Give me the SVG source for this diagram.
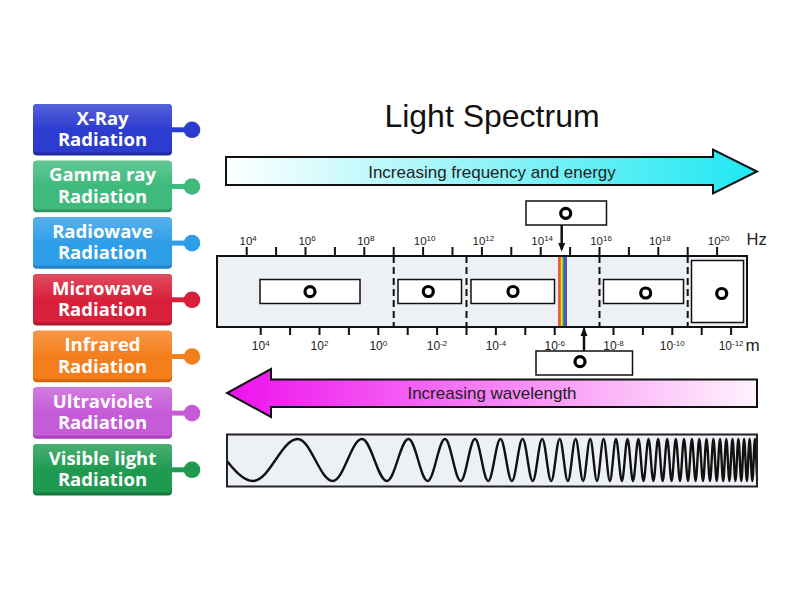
<svg xmlns="http://www.w3.org/2000/svg" width="800" height="600" viewBox="0 0 800 600">
<defs>
  <linearGradient id="gFreq" x1="226" y1="0" x2="757" y2="0" gradientUnits="userSpaceOnUse">
    <stop offset="0" stop-color="#ffffff"/><stop offset="1" stop-color="#1ee8f2"/>
  </linearGradient>
  <linearGradient id="gWave" x1="227" y1="0" x2="757" y2="0" gradientUnits="userSpaceOnUse">
    <stop offset="0" stop-color="#ee10ee"/><stop offset="1" stop-color="#fff3fd"/>
  </linearGradient>
  <linearGradient id="gShine" x1="0" y1="0" x2="0" y2="1">
    <stop offset="0" stop-color="#ffffff" stop-opacity="0.2"/><stop offset="1" stop-color="#ffffff" stop-opacity="0"/>
  </linearGradient>
  <marker id="ah" viewBox="0 0 10 10" markerWidth="9" markerHeight="9" refX="7" refY="5" orient="auto" markerUnits="userSpaceOnUse">
    <path d="M0,1 L10,5 L0,9 z" fill="#111"/>
  </marker>
  <clipPath id="clipWave"><rect x="228" y="435.5" width="528" height="50"/></clipPath>
</defs>
<style>
  .lbl text{font-family:"Open Sans","Noto Sans",sans-serif;font-weight:700;font-size:18.5px;fill:#fff;text-anchor:middle}
  .sc{font-family:"Liberation Sans",Arial,sans-serif;fill:#222;text-anchor:middle}
  .top{font-size:11.5px}
  .bot{font-size:12px}
  .sup{font-size:8px}
  .ticks{stroke:#111;stroke-width:2;fill:none}
  .dash{stroke:#111;stroke-width:2;stroke-dasharray:7 4}
  .slot{fill:#fff;stroke:#111;stroke-width:1.5}
  .ring{fill:none;stroke:#000;stroke-width:3.2}
  .bigtxt{font-family:"Liberation Sans",Arial,sans-serif;fill:#222;text-anchor:middle;font-size:17px}
  .conn{stroke:#111;stroke-width:2.5;fill:none}
</style>

<!-- Title -->
<text id="title" x="492" y="127" font-family="'Liberation Sans',Arial,sans-serif" font-size="32" fill="#111" text-anchor="middle">Light Spectrum</text>

<!-- Left labels -->
<g id="label-xray" class="lbl">
  <rect x="33" y="104" width="139" height="51.5" rx="4" fill="#1e2a9e"/>
  <rect x="33" y="104" width="139" height="48.5" rx="4" fill="#2c3bd0"/>
  <rect x="33" y="104" width="139" height="26" rx="4" fill="url(#gShine)"/>
  <line x1="171" y1="129.8" x2="190" y2="129.8" stroke="#2c3bd0" stroke-width="5"/>
  <circle cx="192" cy="129.8" r="8.3" fill="#2c3bd0"/>
  <text x="102.5" y="124.5">X-Ray<tspan x="102.5" dy="21.5">Radiation</tspan></text>
</g>
<g id="label-gamma" class="lbl">
  <rect x="33" y="160.7" width="139" height="51.5" rx="4" fill="#2e9862"/>
  <rect x="33" y="160.7" width="139" height="48.5" rx="4" fill="#3dba7c"/>
  <rect x="33" y="160.7" width="139" height="26" rx="4" fill="url(#gShine)"/>
  <line x1="171" y1="186.5" x2="190" y2="186.5" stroke="#3dba7c" stroke-width="5"/>
  <circle cx="192" cy="186.5" r="8.3" fill="#3dba7c"/>
  <text x="102.5" y="181.2">Gamma ray<tspan x="102.5" dy="21.5">Radiation</tspan></text>
</g>
<g id="label-radiowave" class="lbl">
  <rect x="33" y="217.3" width="139" height="51.5" rx="4" fill="#2380c4"/>
  <rect x="33" y="217.3" width="139" height="48.5" rx="4" fill="#2f9ee8"/>
  <rect x="33" y="217.3" width="139" height="26" rx="4" fill="url(#gShine)"/>
  <line x1="171" y1="243.1" x2="190" y2="243.1" stroke="#2f9ee8" stroke-width="5"/>
  <circle cx="192" cy="243.1" r="8.3" fill="#2f9ee8"/>
  <text x="102.5" y="237.8">Radiowave<tspan x="102.5" dy="21.5">Radiation</tspan></text>
</g>
<g id="label-microwave" class="lbl">
  <rect x="33" y="274" width="139" height="51.5" rx="4" fill="#b0182e"/>
  <rect x="33" y="274" width="139" height="48.5" rx="4" fill="#d8203a"/>
  <rect x="33" y="274" width="139" height="26" rx="4" fill="url(#gShine)"/>
  <line x1="171" y1="299.8" x2="190" y2="299.8" stroke="#d8203a" stroke-width="5"/>
  <circle cx="192" cy="299.8" r="8.3" fill="#d8203a"/>
  <text x="102.5" y="294.5">Microwave<tspan x="102.5" dy="21.5">Radiation</tspan></text>
</g>
<g id="label-infrared" class="lbl">
  <rect x="33" y="330.7" width="139" height="51.5" rx="4" fill="#d4650f"/>
  <rect x="33" y="330.7" width="139" height="48.5" rx="4" fill="#f57e1c"/>
  <rect x="33" y="330.7" width="139" height="26" rx="4" fill="url(#gShine)"/>
  <line x1="171" y1="356.5" x2="190" y2="356.5" stroke="#f57e1c" stroke-width="5"/>
  <circle cx="192" cy="356.5" r="8.3" fill="#f57e1c"/>
  <text x="102.5" y="351.2">Infrared<tspan x="102.5" dy="21.5">Radiation</tspan></text>
</g>
<g id="label-ultraviolet" class="lbl">
  <rect x="33" y="387.3" width="139" height="51.5" rx="4" fill="#a841bb"/>
  <rect x="33" y="387.3" width="139" height="48.5" rx="4" fill="#c65bd8"/>
  <rect x="33" y="387.3" width="139" height="26" rx="4" fill="url(#gShine)"/>
  <line x1="171" y1="413.1" x2="190" y2="413.1" stroke="#c65bd8" stroke-width="5"/>
  <circle cx="192" cy="413.1" r="8.3" fill="#c65bd8"/>
  <text x="102.5" y="407.8">Ultraviolet<tspan x="102.5" dy="21.5">Radiation</tspan></text>
</g>
<g id="label-visible" class="lbl">
  <rect x="33" y="444" width="139" height="51.5" rx="4" fill="#167a3e"/>
  <rect x="33" y="444" width="139" height="48.5" rx="4" fill="#1e9b50"/>
  <rect x="33" y="444" width="139" height="26" rx="4" fill="url(#gShine)"/>
  <line x1="171" y1="469.8" x2="190" y2="469.8" stroke="#1e9b50" stroke-width="5"/>
  <circle cx="192" cy="469.8" r="8.3" fill="#1e9b50"/>
  <text x="102.5" y="464.5">Visible light<tspan x="102.5" dy="21.5">Radiation</tspan></text>
</g>

<!-- Frequency arrow -->
<g id="arrow-frequency">
  <polygon points="226,157 713,157 713,149.5 757,171.5 713,193.5 713,185 226,185" fill="url(#gFreq)" stroke="#111" stroke-width="2" stroke-linejoin="miter"/>
  <text class="bigtxt" x="492" y="177.5">Increasing frequency and energy</text>
</g>

<!-- Scale bar -->
<g id="scale-bar">
  <rect x="217" y="256" width="530" height="71" fill="#edf1f6"/>
  <g id="visible-band">
    <rect x="558.3" y="256" width="1.5" height="71" fill="#e2231a"/>
    <rect x="559.7" y="256" width="1.5" height="71" fill="#f07a12"/>
    <rect x="561.1" y="256" width="1.5" height="71" fill="#f2e01c"/>
    <rect x="562.5" y="256" width="1.5" height="71" fill="#3aa935"/>
    <rect x="563.9" y="256" width="1.5" height="71" fill="#2a5bd7"/>
    <rect x="565.3" y="256" width="1.5" height="71" fill="#3b2a9e"/>
  </g>
  <line class="dash" x1="393.7" y1="256" x2="393.7" y2="327"/>
  <line class="dash" x1="466.5" y1="256" x2="466.5" y2="327"/>
  <line class="dash" x1="599.5" y1="256" x2="599.5" y2="327"/>
  <line class="dash" x1="687.7" y1="256" x2="687.7" y2="327"/>
  <rect x="217" y="256" width="530" height="71" fill="none" stroke="#111" stroke-width="2"/>
  <path class="ticks" d="M246.7,247V256M276.1,247V256M305.5,247V256M334.9,247V256M364.3,247V256M393.7,247V256M423.1,247V256M452.5,247V256M481.9,247V256M511.3,247V256M540.7,247V256M570.1,247V256M599.5,247V256M628.9,247V256M658.3,247V256M687.7,247V256M717.1,247V256"/>
  <path class="ticks" d="M260.7,327V335M290.1,327V335M319.5,327V335M348.9,327V335M378.3,327V335M407.7,327V335M437.1,327V335M466.5,327V335M495.9,327V335M525.3,327V335M554.7,327V335M584.1,327V335M613.5,327V335M642.9,327V335M672.3,327V335M701.7,327V335M731.1,327V335"/>
  <g id="freq-labels">
    <text class="sc top" x="248.2" y="245">10<tspan class="sup" dy="-4.5">4</tspan></text>
    <text class="sc top" x="307" y="245">10<tspan class="sup" dy="-4.5">6</tspan></text>
    <text class="sc top" x="365.8" y="245">10<tspan class="sup" dy="-4.5">8</tspan></text>
    <text class="sc top" x="424.6" y="245">10<tspan class="sup" dy="-4.5">10</tspan></text>
    <text class="sc top" x="483.4" y="245">10<tspan class="sup" dy="-4.5">12</tspan></text>
    <text class="sc top" x="542.2" y="245">10<tspan class="sup" dy="-4.5">14</tspan></text>
    <text class="sc top" x="601" y="245">10<tspan class="sup" dy="-4.5">16</tspan></text>
    <text class="sc top" x="659.8" y="245">10<tspan class="sup" dy="-4.5">18</tspan></text>
    <text class="sc top" x="718.6" y="245">10<tspan class="sup" dy="-4.5">20</tspan></text>
    <text x="746.5" y="244.5" font-family="'Liberation Sans',Arial,sans-serif" font-size="16.5" fill="#222">Hz</text>
  </g>
  <g id="wave-labels">
    <text class="sc bot" x="260.7" y="350">10<tspan class="sup" dy="-4.5">4</tspan></text>
    <text class="sc bot" x="319.5" y="350">10<tspan class="sup" dy="-4.5">2</tspan></text>
    <text class="sc bot" x="378.3" y="350">10<tspan class="sup" dy="-4.5">0</tspan></text>
    <text class="sc bot" x="437.1" y="350">10<tspan class="sup" dy="-4.5">-2</tspan></text>
    <text class="sc bot" x="495.9" y="350">10<tspan class="sup" dy="-4.5">-4</tspan></text>
    <text class="sc bot" x="554.7" y="350">10<tspan class="sup" dy="-4.5">-6</tspan></text>
    <text class="sc bot" x="613.5" y="350">10<tspan class="sup" dy="-4.5">-8</tspan></text>
    <text class="sc bot" x="672.3" y="350">10<tspan class="sup" dy="-4.5">-10</tspan></text>
    <text class="sc bot" x="731.1" y="350">10<tspan class="sup" dy="-4.5">-12</tspan></text>
    <text x="745.5" y="350.5" font-family="'Liberation Sans',Arial,sans-serif" font-size="17" fill="#222">m</text>
  </g>
</g>

<!-- Drop slots -->
<g id="slot-radio"><rect class="slot" x="260" y="279.5" width="100" height="24"/><circle class="ring" cx="310" cy="291.7" r="5"/></g>
<g id="slot-microwave"><rect class="slot" x="398" y="279.5" width="63.5" height="24"/><circle class="ring" cx="428.3" cy="291.5" r="5"/></g>
<g id="slot-infrared"><rect class="slot" x="471" y="279.5" width="83.5" height="24"/><circle class="ring" cx="513" cy="291.5" r="5"/></g>
<g id="slot-xray"><rect class="slot" x="603.5" y="279.5" width="80" height="24"/><circle class="ring" cx="645.7" cy="293" r="5"/></g>
<g id="slot-gamma"><rect class="slot" x="691.5" y="260.5" width="52" height="62" stroke-width="2"/><circle class="ring" cx="721.7" cy="293.5" r="5"/></g>
<g id="slot-visible"><rect class="slot" x="526" y="201" width="80.5" height="24"/><circle class="ring" cx="565.7" cy="213.3" r="5"/></g>
<g id="slot-ultraviolet"><rect class="slot" x="536" y="351" width="96.5" height="24"/><circle class="ring" cx="580" cy="361.7" r="5"/></g>

<!-- Connectors -->
<g id="connectors">
  <line class="conn" x1="561.7" y1="225" x2="561.7" y2="249" marker-end="url(#ah)"/>
  <line class="conn" x1="584" y1="351" x2="584" y2="330" marker-end="url(#ah)"/>
</g>

<!-- Wavelength arrow -->
<g id="arrow-wavelength">
  <polygon points="757,379.5 271,379.5 271,369 227,393 271,417 271,407 757,407" fill="url(#gWave)" stroke="#111" stroke-width="2"/>
  <text class="bigtxt" x="492" y="399">Increasing wavelength</text>
</g>

<!-- Wave -->
<g id="wave-panel">
  <rect x="227" y="434.5" width="530" height="52" fill="#edf1f6" stroke="#222" stroke-width="2"/>
  <path clip-path="url(#clipWave)" fill="none" stroke="#111" stroke-width="2.4" stroke-linejoin="round" d="M227,461.1 C235.5,471.3 243.7,481 253.2,481 C269.4,481 281.5,439 297.7,439 C310.5,439 320.1,481 332.9,481 C343.5,481 351.4,439 362,439 C371.1,439 377.8,481 386.9,481 C394.8,481 400.6,439 408.5,439 C415.5,439 420.7,481 427.7,481 C434,481 438.7,439 445,439 C450.7,439 455,481 460.7,481 C465.9,481 469.8,439 475,439 C479.8,439 483.4,481 488.2,481 C492.7,481 496,439 500.5,439 C504.6,439 507.8,481 511.9,481 C515.8,481 518.7,439 522.6,439 C526.3,439 529,481 532.7,481 C536.2,481 538.7,439 542.2,439 C545.5,439 547.9,481 551.2,481 C554.3,481 556.6,439 559.7,439 C562.7,439 564.9,481 567.9,481 C570.7,481 572.8,439 575.6,439 C578.3,439 580.4,481 583.1,481 C585.7,481 587.6,439 590.2,439 C592.7,439 594.5,481 597,481 C599.4,481 601.2,439 603.6,439 C605.9,439 607.6,481 609.9,481 C612.1,481 613.8,439 616,439 C618.1,439 619.8,481 621.9,481 C623.9,481 625.5,439 627.5,439 C629.5,439 631,481 633,481 C635,481 636.4,439 638.4,439 C640.3,439 641.6,481 643.5,481 C645.3,481 646.7,439 648.5,439 C650.3,439 651.6,481 653.4,481 C655.1,481 656.4,439 658.1,439 C659.8,439 661,481 662.7,481 C664.3,481 665.6,439 667.2,439 C668.8,439 670,481 671.6,481 C673.1,481 674.3,439 675.8,439 C677.3,439 678.5,481 680,481 C681.5,481 682.5,439 684,439 C685.5,439 686.5,481 688,481 C689.4,481 690.5,439 691.9,439 C693.2,439 694.3,481 695.6,481 C696.9,481 698,439 699.3,439 C700.6,439 701.7,481 703,481 C704.3,481 705.2,439 706.5,439 C707.8,439 708.7,481 710,481 C711.2,481 712.2,439 713.4,439 C714.6,439 715.5,481 716.7,481 C717.9,481 718.8,439 720,439 C721.2,439 722,481 723.2,481 C724.3,481 725.2,439 726.3,439 C727.4,439 728.3,481 729.4,481 C730.5,481 731.4,439 732.5,439 C733.6,439 734.3,481 735.4,481 C736.5,481 737.3,439 738.4,439 C739.5,439 740.2,481 741.3,481 C742.3,481 743.1,439 744.1,439 C745.1,439 745.9,481 746.9,481 C747.9,481 748.6,439 749.6,439 C750.6,439 751.3,481 752.3,481 C753.3,481 754,439 755,439 C756,439 756.6,481 757.6,481"/>
</g>
</svg>
